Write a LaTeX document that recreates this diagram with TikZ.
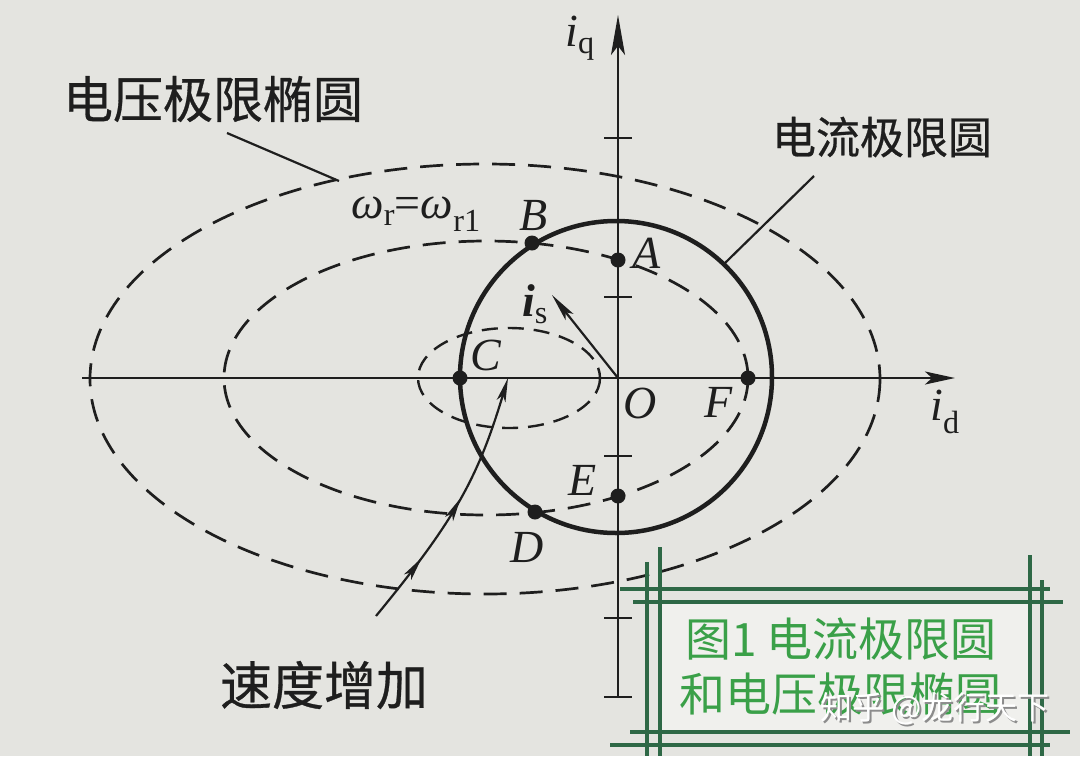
\documentclass[tikz,border=0pt]{standalone}
\usepackage{fontspec}
\setmainfont{Liberation Serif}
\newfontfamily\cjk{Noto Sans CJK SC}
\newfontfamily\cjkb{Noto Sans CJK SC}[FakeBold=0.6]
\usetikzlibrary{arrows.meta,decorations.markings}
\definecolor{paper}{RGB}{228,228,224}
\definecolor{ink}{RGB}{30,30,30}
\definecolor{framegreen}{RGB}{46,104,70}
\definecolor{textgreen}{RGB}{58,160,72}
\definecolor{boxfill}{RGB}{240,240,237}
\begin{document}
\begin{tikzpicture}[x=1pt,y=-1pt,
  >={Stealth[length=24pt,width=9pt,inset=6pt]},
  axisline/.style={line width=2.4pt,draw=ink},
  limcircle/.style={line width=4.5pt,draw=ink},
  vellipse/.style={line width=2.7pt,draw=ink,dash pattern=on 23pt off 13pt},
  smallell/.style={line width=2.4pt,draw=ink,dash pattern=on 16pt off 10pt},
  dotpt/.style={circle,fill=ink,inner sep=0pt,minimum size=15pt},
  lbl/.style={font=\fontsize{46}{50}\selectfont\itshape,text=ink,inner sep=0pt},
  cjklbl/.style={font=\cjkb\fontsize{48}{52}\selectfont,text=ink,inner sep=0pt},
  leader/.style={line width=2.2pt,draw=ink},
  tickmark/.style={line width=2.4pt,draw=ink},
  frameline/.style={line width=4pt,draw=framegreen},
  greentext/.style={font=\cjk\fontsize{46}{50}\selectfont,text=textgreen,inner sep=0pt},
]
\useasboundingbox (0,0) rectangle (1080,756);
\fill[paper] (0,0) rectangle (1080,756);

% voltage limit ellipses
\draw[vellipse] (485,379) ellipse[x radius=395,y radius=215];
\draw[vellipse] (486,378) ellipse[x radius=262,y radius=137];
\draw[smallell] (509,378) ellipse[x radius=91,y radius=50];

% current limit circle
\draw[limcircle] (616,377) circle[radius=156];

% axes
\coordinate (dleft) at (82,378);
\coordinate (dright) at (955,378);
\coordinate (qbot) at (618,697);
\coordinate (qtop) at (618,15);
\coordinate (O) at (618,378);
\draw[axisline,-{Stealth[length=30pt,width=13pt,inset=7pt]}] (dleft) -- (dright);
\draw[axisline,-{Stealth[length=40pt,width=14pt,inset=9pt]}] (qbot) -- (qtop);
\foreach \yy in {138,297,456,618,697} \draw[tickmark] (604,\yy) -- (632,\yy);

% points
\node[dotpt] (B) at (532,243) {};
\node[dotpt] (A) at (618,260) {};
\node[dotpt] (C) at (460,378) {};
\node[dotpt] (F) at (748,378) {};
\node[dotpt] (E) at (618,496) {};
\node[dotpt] (D) at (535,512) {};

% point labels
\node[lbl] (Blbl) at (534,216) {B};
\node[lbl] (Albl) at (647,253) {A};
\node[lbl] (Clbl) at (486,355) {C};
\node[lbl] (Olbl) at (640,403) {O};
\node[lbl] (Flbl) at (719,402) {F};
\node[lbl] (Elbl) at (583,480) {E};
\node[lbl] (Dlbl) at (527,547) {D};

% axis labels
\node[lbl] (iq) at (580,38) {i\textsubscript{\upshape q}};
\node[lbl] (id) at (945,412) {i\textsubscript{\upshape d}};
\node[lbl] (wlbl) at (416,214) {ω\textsubscript{\upshape r}{\upshape =}ω\textsubscript{\upshape r1}};
\node[lbl,font=\fontsize{46}{50}\selectfont\bfseries\itshape] (islbl) at (535,304) {i\textsubscript{\upshape\mdseries s}};

% i_s vector
\coordinate (istip) at (552,295);
\draw[line width=2.2pt,draw=ink,-{Stealth[length=28pt,width=10pt,inset=6pt]}] (O) -- (istip);

% Chinese labels and leaders
\node[cjklbl,font=\cjkb\fontsize{50}{54}\selectfont] (vlim) at (213,99) {电压极限椭圆};
\coordinate (vlimA) at (227,133);
\coordinate (vlimB) at (339,181);
\draw[leader] (vlimA) -- (vlimB);

\node[cjklbl,font=\cjkb\fontsize{44}{48}\selectfont] (clim) at (882,137) {电流极限圆};
\coordinate (climA) at (814,176);
\coordinate (climB) at (725,263);
\draw[leader] (climA) -- (climB);

\node[cjklbl,font=\cjkb\fontsize{52}{56}\selectfont] (speed) at (324,685) {速度增加};
\coordinate (spdA) at (376,616);
\coordinate (spdB) at (508,378);
\draw[leader,->,postaction={decorate},
  decoration={markings,
    mark=at position 0.27 with {\arrow{>}},
    mark=at position 0.53 with {\arrow{>}}}]
  (spdA) .. controls (455,520) and (478,478) .. (spdB);

% green caption frame
\fill[boxfill] (660,602) rectangle (1030,732);
\draw[frameline] (620,589) -- (1050,589);
\draw[frameline] (633,602) -- (1063,602);
\draw[frameline] (630,732) -- (1070,732);
\draw[frameline] (610,745) -- (1050,745);
\draw[frameline] (647,562) -- (647,756);
\draw[frameline] (660,547) -- (660,756);
\draw[frameline] (1030,555) -- (1030,756);
\draw[frameline] (1042,580) -- (1042,756);
\node[greentext] (cap1) at (841,639) {图1 电流极限圆};
\node[greentext] (cap2) at (840,694) {和电压极限椭圆};

% watermark
\node[font=\cjk\fontsize{32}{34}\selectfont,text=black!45,inner sep=0pt] (wmshadow) at (937,711) {知乎 @龙行天下};
\node[font=\cjk\fontsize{32}{34}\selectfont,text=white,inner sep=0pt] (wm) at (935,709) {知乎 @龙行天下};
\end{tikzpicture}
\end{document}
